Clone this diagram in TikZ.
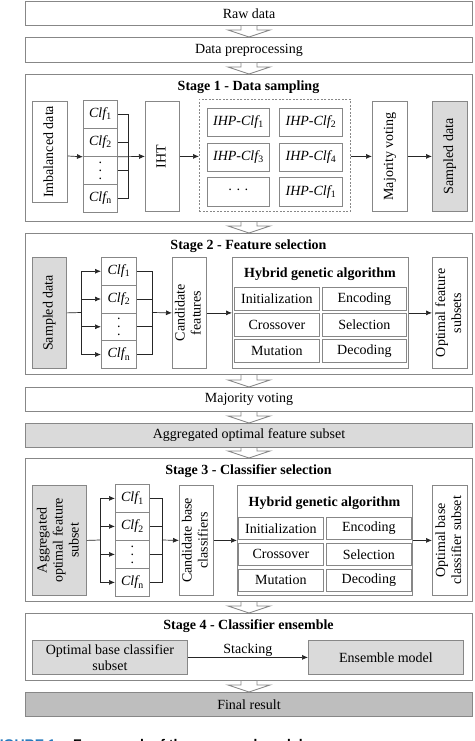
\documentclass[tikz,border=0pt]{standalone}
\usepackage{fontspec}
\setmainfont{Liberation Serif}
\newfontfamily\capfont{Liberation Sans}
\usepackage{graphicx}
\usetikzlibrary{calc, positioning, arrows.meta}

\definecolor{boxgray}{HTML}{878787}
\definecolor{fillgray}{HTML}{DADADA}
\definecolor{darkfill}{HTML}{BEBEBE}
\definecolor{capblue}{HTML}{2277BB}

\newcommand{\clf}[1]{{\itshape Clf}\textsubscript{#1}}
\newcommand{\ihp}[1]{{\itshape IHP-Clf}\textsubscript{#1}}
\newcommand{\vtext}[1]{\rotatebox{90}{\begin{tabular}{@{}c@{}}#1\end{tabular}}}
\newcommand{\vdotsc}{\vbox{\baselineskip=8pt\hbox{.}\hbox{.}\hbox{.}}}

\tikzset{
  sz/.style 2 args={minimum width=#1pt, minimum height=#2pt},
  outer/.style={draw=boxgray, line width=1pt, fill=white, anchor=north west, inner sep=0pt},
  inbox/.style={draw=boxgray, line width=0.8pt, fill=white, anchor=north west, inner sep=0pt},
  graybox/.style={inbox, fill=fillgray},
  title/.style={font=\fontsize{14}{16}\selectfont\bfseries},
  conn/.style={draw=black!85, line width=0.7pt},
  hollow/.style={draw=boxgray, line width=0.9pt, fill=white},
}

% big hollow arrow between two stacked frames
\newcommand{\bigarrow}[2]{%
  \draw[hollow] ($(#1.south)+(-8,0)$) -- ($(#2.north)+(-8,-7)$)
    -- ($(#2.north)+(-21,-7)$) -- (#2.north) -- ($(#2.north)+(21,-7)$)
    -- ($(#2.north)+(8,-7)$) -- ($(#1.south)+(8,0)$);}

\begin{document}
\begin{tikzpicture}[x=1pt, y=-1pt, font=\fontsize{14}{16}\selectfont,
    >={Latex[length=6pt,width=5pt]}]
  \useasboundingbox (0,0) rectangle (474,741);

  % frames
  \node[outer, sz={447}{24}] (raw) at (25,1) {Raw data};
  \node[outer, sz={447}{25}] (prep) at (25,37) {Data preprocessing};
  \node[outer, sz={447}{147}] (s1) at (25,74) {};
  \node[outer, sz={447}{141}] (s2) at (25,233) {};
  \node[outer, sz={447}{24}] (mv) at (25,387) {Majority voting};
  \node[outer, fill=fillgray, sz={447}{24}] (agg) at (25,423) {Aggregated optimal feature subset};
  \node[outer, sz={447}{143}] (s3) at (25,458) {};
  \node[outer, sz={447}{67}] (s4) at (25,613) {};
  \node[outer, fill=darkfill, sz={447}{24}] (fin) at (25,692) {Final result};

  \foreach \a/\b in {raw/prep, prep/s1, s1/s2, s2/mv, mv/agg, agg/s3, s3/s4, s4/fin}
    {\bigarrow{\a}{\b}}

  % stage 1
  \node[title] (t1) at (248.5,87) {Stage 1 - Data sampling};
  \node[inbox, sz={35}{101}] (imb) at (32,101) {\vtext{Imbalanced data}};
  \node[inbox, sz={34}{28}] (c1a) at (83,100) {\clf{1}};
  \node[inbox, sz={34}{28}] (c1b) at (83,128) {\clf{2}};
  \node[inbox, sz={34}{28}] (c1c) at (83,156) {\vdotsc};
  \node[inbox, sz={34}{28}] (c1d) at (83,184) {\clf{n}};
  \coordinate (j1) at (128,156);
  \node[inbox, sz={34}{110}] (iht) at (145,101) {\vtext{IHT}};
  \node[inbox, dash pattern=on 2pt off 1.5pt, sz={151}{112}] (ihp) at (199,99) {};
  \node[inbox, sz={62}{28}] (p1) at (207,108) {\ihp{1}};
  \node[inbox, sz={63}{28}] (p2) at (279,108) {\ihp{2}};
  \node[inbox, sz={62}{28}] (p3) at (207,143) {\ihp{3}};
  \node[inbox, sz={63}{28}] (p4) at (279,143) {\ihp{4}};
  \node[inbox, sz={62}{29}] (p5) at (207,177) {· · ·};
  \node[inbox, sz={63}{29}] (p6) at (279,177) {\ihp{1}};
  \node[inbox, sz={35}{110}] (mv1) at (372,101) {\vtext{Majority voting}};
  \node[graybox, sz={35}{110}] (sd1) at (432,101) {\vtext{Sampled data}};

  \draw[conn,->] (imb.east |- j1) -- (c1b.south west);
  \draw[conn] (c1a.east) -| (j1) (c1d.east) -| (j1);
  \draw[conn] (c1b.east) -- (c1b.east -| j1) (c1c.east) -- (c1c.east -| j1);
  \draw[conn,->] (c1b.south east) -- (iht.west);
  \draw[conn,->] (iht.east) -- (ihp.west |- iht.east);
  \draw[conn,->] (ihp.east |- mv1.west) -- (mv1.west);
  \draw[conn,->] (mv1.east) -- (sd1.west);

  % stage 2
  \node[title] (t2) at (248.5,246) {Stage 2 - Feature selection};
  \node[graybox, sz={34}{111}] (sd2) at (32,257) {\vtext{Sampled data}};
  \node[inbox, sz={35}{27.75}] (c2a) at (101,257) {\clf{1}};
  \node[inbox, sz={35}{27.75}] (c2b) at (101,284.75) {\clf{2}};
  \node[inbox, sz={35}{27.75}] (c2c) at (101,312.5) {\vdotsc};
  \node[inbox, sz={35}{27.75}] (c2d) at (101,340.25) {\clf{n}};
  \coordinate (f2) at (81,312.5);
  \coordinate (g2) at (152,312.5);
  \node[inbox, sz={34}{111}] (cand2) at (172,257) {\vtext{Candidate\\features}};
  \node[inbox, sz={176}{111}] (hga2) at (232,257) {};
  \node[title] (h2) at (320,274) {Hybrid genetic algorithm};
  \node[inbox, sz={85}{23}] (init2) at (234,287) {Initialization};
  \node[inbox, sz={84}{23}] (enc2) at (322,287) {Encoding};
  \node[inbox, sz={85}{23}] (cro2) at (234,313) {Crossover};
  \node[inbox, sz={84}{23}] (sel2) at (322,313) {Selection};
  \node[inbox, sz={85}{23}] (mut2) at (234,339) {Mutation};
  \node[inbox, sz={84}{23}] (dec2) at (322,339) {Decoding};
  \node[inbox, sz={35}{111}] (ofs) at (432,257) {\vtext{Optimal feature\\subsets}};

  \draw[conn] (sd2.east) -- (f2);
  \draw[conn,->] (f2) |- (c2a.west);
  \draw[conn,->] (f2) |- (c2d.west);
  \draw[conn,->] (c2b.west -| f2) -- (c2b.west);
  \draw[conn,->] (c2c.west -| f2) -- (c2c.west);
  \draw[conn] (c2a.east) -| (g2) (c2d.east) -| (g2);
  \draw[conn] (c2b.east) -- (c2b.east -| g2) (c2c.east) -- (c2c.east -| g2);
  \draw[conn,->] (g2) -- (cand2.west);
  \draw[conn,->] (cand2.east) -- (hga2.west);
  \draw[conn,->] (hga2.east) -- (ofs.west);

  % stage 3
  \node[title] (t3) at (248.5,471) {Stage 3 - Classifier selection};
  \node[graybox, sz={54}{110}] (agg3) at (32,485) {\vtext{Aggregated\\optimal feature\\subset}};
  \node[inbox, sz={34}{28}] (c3a) at (115,484) {\clf{1}};
  \node[inbox, sz={34}{28}] (c3b) at (115,512) {\clf{2}};
  \node[inbox, sz={34}{28}] (c3c) at (115,540) {\vdotsc};
  \node[inbox, sz={34}{28}] (c3d) at (115,568) {\clf{n}};
  \coordinate (f3) at (100,540);
  \coordinate (g3) at (162,540);
  \node[inbox, sz={34}{110}] (cbc) at (179,485) {\vtext{Candidate base\\classifiers}};
  \node[inbox, sz={175}{110}] (hga3) at (237,485) {};
  \node[title] (h3) at (324.5,503) {Hybrid genetic algorithm};
  \node[inbox, sz={85}{22}] (init3) at (238,517) {Initialization};
  \node[inbox, sz={85}{22}] (enc3) at (326,517) {Encoding};
  \node[inbox, sz={85}{22}] (cro3) at (238,543) {Crossover};
  \node[inbox, sz={85}{22}] (sel3) at (326,543) {Selection};
  \node[inbox, sz={85}{22}] (mut3) at (238,569) {Mutation};
  \node[inbox, sz={85}{22}] (dec3) at (326,569) {Decoding};
  \node[inbox, sz={35}{110}] (obc) at (432,485) {\vtext{Optimal base\\classifier subset}};

  \draw[conn] (agg3.east) -- (f3);
  \draw[conn,->] (f3) |- (c3a.west);
  \draw[conn,->] (f3) |- (c3d.west);
  \draw[conn,->] (c3b.west -| f3) -- (c3b.west);
  \draw[conn,->] (c3c.west -| f3) -- (c3c.west);
  \draw[conn] (c3a.east) -| (g3) (c3d.east) -| (g3);
  \draw[conn] (c3b.east) -- (c3b.east -| g3) (c3c.east) -- (c3c.east -| g3);
  \draw[conn,->] (g3) -- (cbc.west);
  \draw[conn,->] (cbc.east) -- (hga3.west);
  \draw[conn,->] (hga3.east) -- (obc.west);

  % stage 4
  \node[title] (t4) at (248.5,626) {Stage 4 - Classifier ensemble};
  \node[graybox, sz={155}{34}, align=center] (obcs) at (32,640) {Optimal base classifier\\subset};
  \node[graybox, sz={155}{34}] (ens) at (308,640) {Ensemble model};
  \draw[conn,->] (obcs.east) -- node[above=1pt, inner sep=0pt] (stk) {Stacking} (ens.west);

  % caption (cut by the page edge)
  \node[anchor=base west, inner sep=0pt, text=capblue,
    font=\capfont\fontsize{14}{16}\selectfont\bfseries] (fig) at (-9,749) {FIGURE 1};
  \node[anchor=base west, inner sep=0pt,
    font=\capfont\fontsize{14}{16}\selectfont\bfseries] (cap) at (73,749) {Framework of the proposed model};
\end{tikzpicture}
\end{document}
